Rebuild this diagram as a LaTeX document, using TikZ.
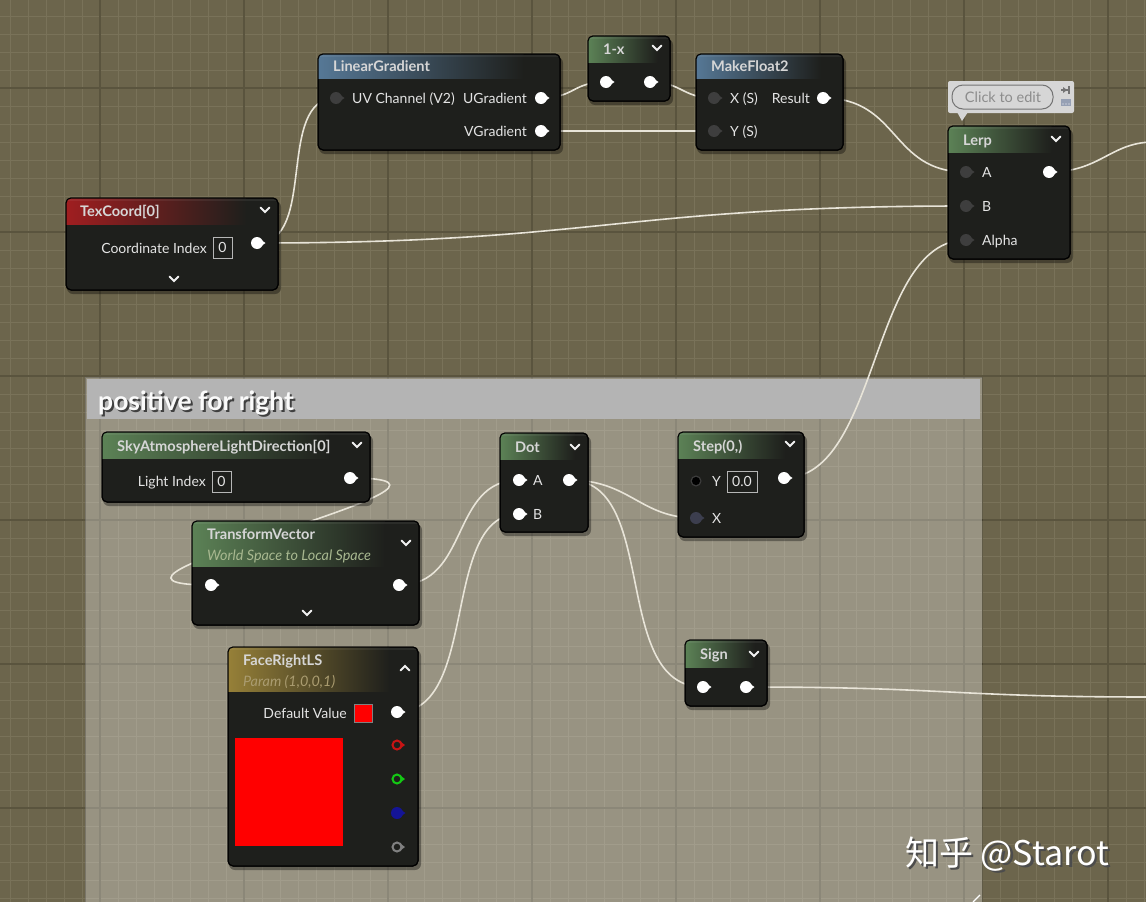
\documentclass[tikz,border=0pt]{standalone}
\usepackage{fontspec}
\setmainfont{Lato}
\newfontfamily\cjk{Noto Sans CJK SC}
\definecolor{bg}{RGB}{108,101,76}
\definecolor{gminor}{RGB}{121,114,89}
\definecolor{gmajor}{RGB}{90,84,62}
\definecolor{bodyc}{RGB}{30,31,28}
\definecolor{wire}{RGB}{232,228,216}
\definecolor{hred}{RGB}{160,30,32}
\definecolor{hblue}{RGB}{86,120,150}
\definecolor{hgreen}{RGB}{92,130,86}
\definecolor{hgold}{RGB}{150,128,56}
\definecolor{txt}{RGB}{228,228,228}
\definecolor{ttlc}{RGB}{214,214,214}
\definecolor{pingray}{RGB}{62,62,62}
\definecolor{pinslate}{RGB}{60,62,78}
\definecolor{cmthead}{RGB}{180,180,180}
\definecolor{bubble}{RGB}{214,214,214}
\definecolor{pinred}{RGB}{200,20,20}
\definecolor{pingreen}{RGB}{20,200,20}
\definecolor{pinblue}{RGB}{20,20,150}
\definecolor{subgreen}{RGB}{168,184,144}
\definecolor{subgold}{RGB}{170,156,112}
\definecolor{iconblue}{RGB}{150,160,180}
\tikzset{
  wirestyle/.style={draw=wire, line width=1.6pt},
  nodebody/.style={draw=black, line width=1pt, rounded corners=5pt, fill=bodyc, inner sep=0pt},
  ttl/.style={anchor=base west, text=ttlc, font=\fontsize{14.6}{16}\selectfont\bfseries, inner sep=0pt},
  lbl/.style={anchor=base west, text=txt, font=\fontsize{14}{16}\selectfont, inner sep=0pt},
  lble/.style={anchor=base east, text=txt, font=\fontsize{14}{16}\selectfont, inner sep=0pt},
  subt/.style={anchor=base west, font=\fontsize{14.4}{16}\selectfont\itshape, inner sep=0pt},
  valbox/.style={draw=txt!80!black, line width=0.8pt, text=txt, font=\fontsize{14}{16}\selectfont, inner sep=0pt, minimum height=21pt},
  chev/.pic={\draw[line width=2pt, white!88!gray, line cap=round] (-4.5,-2.5) -- (0,2) -- (4.5,-2.5);},
  chevup/.pic={\draw[line width=2pt, white!88!gray, line cap=round] (-4.5,2.5) -- (0,-2) -- (4.5,2.5);},
  pinf/.pic={\fill[#1] (0,0) circle (6pt); \fill[#1] (3.5,-3.5) -- (8.5,0) -- (3.5,3.5) -- cycle;},
  pinring/.pic={\draw[#1, line width=2pt] (0,0) circle (4.5pt); \fill[#1] (4,-3) -- (8,0) -- (4,3) -- cycle;},
}
\newcommand\uen[7]{%
  \fill[black, opacity=.35, rounded corners=6pt] (#2+1,#3+3) rectangle (#4+3,#5+4);
  \node[nodebody, minimum width=#4-#2, minimum height=#5-#3] (#1) at ({(#2+#4)/2},{(#3+#5)/2}) {};
  \begin{scope}
    \clip[rounded corners=5pt] (#2,#3) rectangle (#4,#5);
    \shade[left color=#7, right color=bodyc] (#2,#3) rectangle ({#2+0.85*(#4-#2)},#6);
    \fill[white, opacity=.06] (#2,#3) rectangle (#4,{#3+3});
  \end{scope}
  \draw[black, line width=1pt, rounded corners=5pt] (#2,#3) rectangle (#4,#5);
}
\begin{document}
\begin{tikzpicture}[x=1pt, y=-1pt]
\useasboundingbox (0,0) rectangle (1146,902);
\clip (0,0) rectangle (1146,902);
% background and grid
\fill[bg] (0,0) rectangle (1146,902);
\foreach \i in {0,...,63} {\draw[gminor, line width=0.8pt] ({10+18*\i},0) -- ({10+18*\i},902);}
\foreach \j in {0,...,50} {\draw[gminor, line width=0.8pt] (0,{16+18*\j}) -- (1146,{16+18*\j});}
\foreach \i in {0,...,7} {\draw[gmajor, line width=1.2pt] ({100+144*\i},0) -- ({100+144*\i},902);}
\foreach \j in {0,...,5} {\draw[gmajor, line width=1.2pt] (0,{88+144*\j}) -- (1146,{88+144*\j});}
% comment box
\fill[white, opacity=.3] (85,377) rectangle (982,910);
\draw[black, opacity=.2, line width=1pt] (85,377) rectangle (982,910);
\fill[cmthead] (87,379) rectangle (980,419);
\node[anchor=base west, inner sep=0pt, text=black!75, font=\fontsize{26.5}{29}\selectfont\bfseries] at (100,412) {positive for right};
\node[anchor=base west, inner sep=0pt, text=white!96!gray, font=\fontsize{26.5}{29}\selectfont\bfseries] (cmt) at (98,410) {positive for right};
\draw[white, line width=1.2pt] (973,902) -- (980,895);

% pin coordinates
\coordinate (tc-out) at (257,243);
\coordinate (lg-uv) at (336,98);
\coordinate (lg-u) at (541,98);
\coordinate (lg-v) at (541,131);
\coordinate (om-in) at (606,82);
\coordinate (om-out) at (650,82);
\coordinate (mf-x) at (714,98);
\coordinate (mf-y) at (714,131);
\coordinate (mf-out) at (823,98);
\coordinate (lp-a) at (966,172);
\coordinate (lp-b) at (966,206);
\coordinate (lp-al) at (966,240);
\coordinate (lp-out) at (1049,172);
\coordinate (lp-far) at (1152,142);
\coordinate (sk-out) at (350,478);
\coordinate (tv-in) at (211,585);
\coordinate (tv-out) at (399,585);
\coordinate (fr-out) at (397,712);
\coordinate (fr-r) at (397,745);
\coordinate (fr-g) at (397,779);
\coordinate (fr-b) at (397,813);
\coordinate (fr-a) at (397,847);
\coordinate (dt-a) at (519,480);
\coordinate (dt-b) at (519,514);
\coordinate (dt-out) at (569,480);
\coordinate (st-y) at (696,481);
\coordinate (st-x) at (696,518);
\coordinate (st-out) at (784,478);
\coordinate (sg-in) at (703,687);
\coordinate (sg-out) at (746,687);
\coordinate (sg-far) at (1152,697);

% wires
\draw[wirestyle] (tc-out) .. controls (318,243) and (275,98) .. (lg-uv);
\draw[wirestyle] (tc-out) .. controls (600,243) and (620,206) .. (lp-b);
\draw[wirestyle] (lg-u) .. controls (575,98) and (572,82) .. (om-in);
\draw[wirestyle] (om-out) .. controls (682,82) and (682,98) .. (mf-x);
\draw[wirestyle] (lg-v) -- (mf-y);
\draw[wirestyle] (mf-out) .. controls (900,98) and (890,172) .. (lp-a);
\draw[wirestyle] (lp-out) .. controls (1100,172) and (1110,143) .. (lp-far);
\draw[wirestyle] (st-out) .. controls (880,478) and (870,240) .. (lp-al);
\draw[wirestyle] (sk-out) .. controls (530,478) and (30,585) .. (tv-in);
\draw[wirestyle] (tv-out) .. controls (470,585) and (450,480) .. (dt-a);
\draw[wirestyle] (fr-out) .. controls (480,712) and (440,514) .. (dt-b);
\draw[wirestyle] (dt-out) .. controls (630,480) and (640,518) .. (st-x);
\draw[wirestyle] (dt-out) .. controls (660,480) and (610,687) .. (sg-in);
\draw[wirestyle] (sg-out) .. controls (950,687) and (950,697) .. (sg-far);

% nodes
\uen{texcoord}{66}{198}{278}{290}{224}{hred}
\uen{lingrad}{318}{54}{560}{150}{78}{hblue}
\uen{onemx}{588}{36}{670}{101}{62}{hgreen}
\uen{mkf2}{696}{54}{843}{150}{78}{hblue}
\uen{lerp}{948}{126}{1070}{259}{152}{hgreen}
\uen{sky}{102}{432}{370}{502}{458}{hgreen}
\uen{tvec}{192}{521}{419}{625}{566}{hgreen}
\uen{face}{228}{647}{418}{866}{691}{hgold}
\uen{dot}{500}{433}{588}{532}{459}{hgreen}
\uen{step}{678}{432}{804}{537}{458}{hgreen}
\uen{sign}{685}{640}{767}{706}{667}{hgreen}

% pins
\foreach \p in {tc-out,lg-u,lg-v,om-in,om-out,mf-out,lp-out,sk-out,tv-in,tv-out,fr-out,dt-a,dt-b,dt-out,st-out,sg-in,sg-out}
  {\pic at (\p) {pinf=white};}
\foreach \p in {lg-uv,mf-x,mf-y,lp-a,lp-b,lp-al}
  {\pic at (\p) {pinf=pingray};}
\pic at (st-x) {pinf=pinslate};
\fill[black] (st-y) circle (4pt);
\draw[pingray, line width=1pt] (st-y) circle (5pt);
\pic at (fr-r) {pinring=pinred};
\pic at (fr-g) {pinring=pingreen};
\pic at (fr-b) {pinf=pinblue};
\pic at (fr-a) {pinring=gray};

% texts: TexCoord
\node[ttl] at (80,216) {TexCoord[0]};
\pic at (265,210) {chev};
\node[lble] at (207,253) {Coordinate Index};
\node[valbox, minimum width=19pt] at (222.5,247.5) {0};
\pic at (174,279) {chev};
% LinearGradient
\node[ttl] at (333,71) {LinearGradient};
\node[lbl] at (352,103) {UV Channel (V2)};
\node[lble] at (527,103) {UGradient};
\node[lble] at (527,136) {VGradient};
% 1-x
\node[ttl] at (603,54) {1-x};
\pic at (657,48) {chev};
% MakeFloat2
\node[ttl] at (711,71) {MakeFloat2};
\node[lbl] at (730,103) {X (S)};
\node[lble] at (810,103) {Result};
\node[lbl] at (730,136) {Y (S)};
% Lerp
\node[ttl] at (963,145) {Lerp};
\pic at (1056,139) {chev};
\node[lbl] at (982,177) {A};
\node[lbl] at (982,211) {B};
\node[lbl] at (982,245) {Alpha};
% Sky
\node[ttl] at (117,451) {SkyAtmosphereLightDirection[0]};
\pic at (357,445) {chev};
\node[lble] at (206,486) {Light Index};
\node[valbox, minimum width=19pt] at (221.5,481.5) {0};
% TransformVector
\node[ttl] at (207,539) {TransformVector};
\node[subt, text=subgreen] at (207,560) {World Space to Local Space};
\pic at (406,543) {chev};
\pic at (307,613) {chev};
% FaceRightLS
\node[ttl] at (243,665) {FaceRightLS};
\node[subt, text=subgold] at (243,686) {Param (1,0,0,1)};
\pic at (405,668) {chevup};
\node[lble] at (347,718) {Default Value};
\draw[fill=red, draw=gray, line width=0.8pt] (354,704) rectangle (372,722);
\fill[red] (235,738) rectangle (343,846);
% Dot
\node[ttl] at (515,452) {Dot};
\pic at (575,447) {chev};
\node[lbl] at (533,485) {A};
\node[lbl] at (533,519) {B};
% Step
\node[ttl] at (693,451) {Step(0,)};
\pic at (790,444) {chev};
\node[lbl] at (712,486) {Y};
\node[valbox, minimum width=30pt] at (742,481.5) {0.0};
\node[lbl] at (712,523) {X};
% Sign
\node[ttl] at (700,659) {Sign};
\pic at (754,654) {chev};

% Click to edit bubble
\fill[bubble, rounded corners=2pt] (948,81) rectangle (1074,113);
\fill[bubble] (957,112) -- (962,121) -- (968,112) -- cycle;
\draw[black!55, line width=1pt, rounded corners=11pt] (952,85) rectangle (1053,109);
\node[inner sep=0pt, text=black!45, font=\fontsize{14.5}{16}\selectfont] (cte) at (1003,97) {Click to edit};
\draw[black!55, line width=1.2pt] (1061,90) -- (1069,90) (1069,86) -- (1069,94);
\fill[black!55] (1063,87) -- (1067,90) -- (1063,93) -- cycle;
\fill[iconblue] (1061,99) rectangle (1071,106);
\foreach \d in {1063,1066,1069} {\fill[white] (\d,104) circle (0.7pt);}

% watermark
\node[anchor=base west, inner sep=0pt, text=black!70, font=\cjk\fontsize{34}{37}\selectfont] at (907.5,867.5) {知乎 @Starot};
\node[anchor=base west, inner sep=0pt, text=white, font=\cjk\fontsize{34}{37}\selectfont] (wm) at (905,865) {知乎 @Starot};
\end{tikzpicture}
\end{document}
